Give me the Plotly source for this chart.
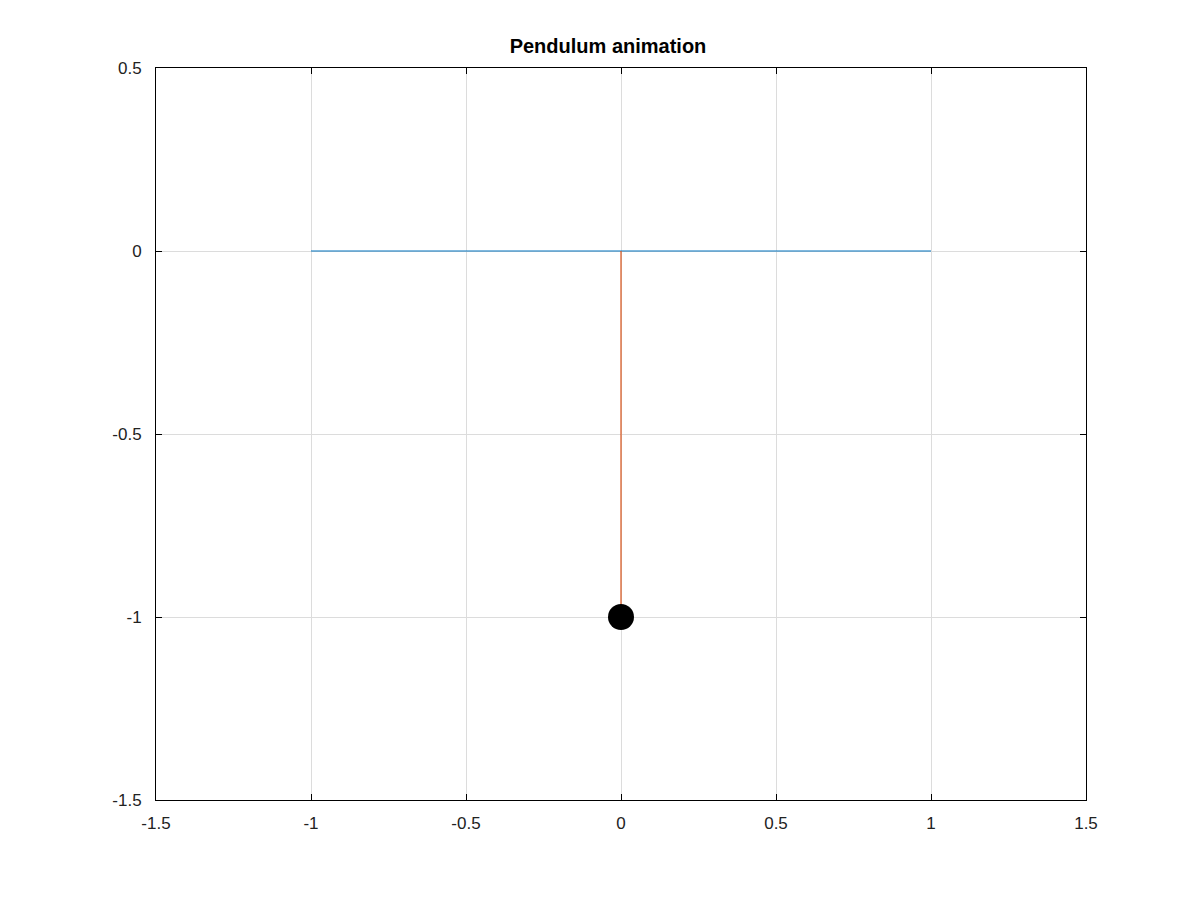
import plotly.graph_objects as go

rod_x = [-1, 1]
rod_y = [0, 0]
string_x = [0, 0]
string_y = [0, -1]
bob_x = [0]
bob_y = [-1]
ticks = [-1.5, -1, -0.5, 0, 0.5, 1, 1.5]
yticks = [-1.5, -1, -0.5, 0, 0.5]

fig = go.Figure()
fig.add_trace(go.Scatter(x=rod_x, y=rod_y, mode="lines", line=dict(color="#0072BD", width=1.2)))
fig.add_trace(go.Scatter(x=string_x, y=string_y, mode="lines", line=dict(color="#D95319", width=1.2)))
fig.add_trace(go.Scatter(x=bob_x, y=bob_y, mode="markers", marker=dict(color="black", size=26)))

ax = dict(showgrid=True, gridcolor="#dcdcdc", gridwidth=1, zeroline=False,
          showline=True, linecolor="black", linewidth=1, mirror="ticks",
          ticks="inside", ticklen=6, tickcolor="black",
          tickfont=dict(family="Liberation Sans, Arial", size=17, color="#222"))
fig.update_layout(
    width=1200, height=900, showlegend=False,
    paper_bgcolor="white", plot_bgcolor="white",
    margin=dict(l=148, r=122, t=60, b=108, autoexpand=False),
    title=dict(text="<b>Pendulum animation</b>", x=0.5, xanchor="center", y=0.958, yanchor="middle",
               font=dict(family="Liberation Sans, Arial", size=20, color="black")),
    xaxis=dict(range=[-1.5, 1.5], tickvals=ticks, ticktext=[str(t) for t in ticks],
               ticklabelstandoff=8, **ax),
    yaxis=dict(range=[-1.5, 0.5], tickvals=yticks, ticktext=[str(t) for t in yticks],
               ticklabelstandoff=10, **ax),
)
fig.write_html("out.html")
